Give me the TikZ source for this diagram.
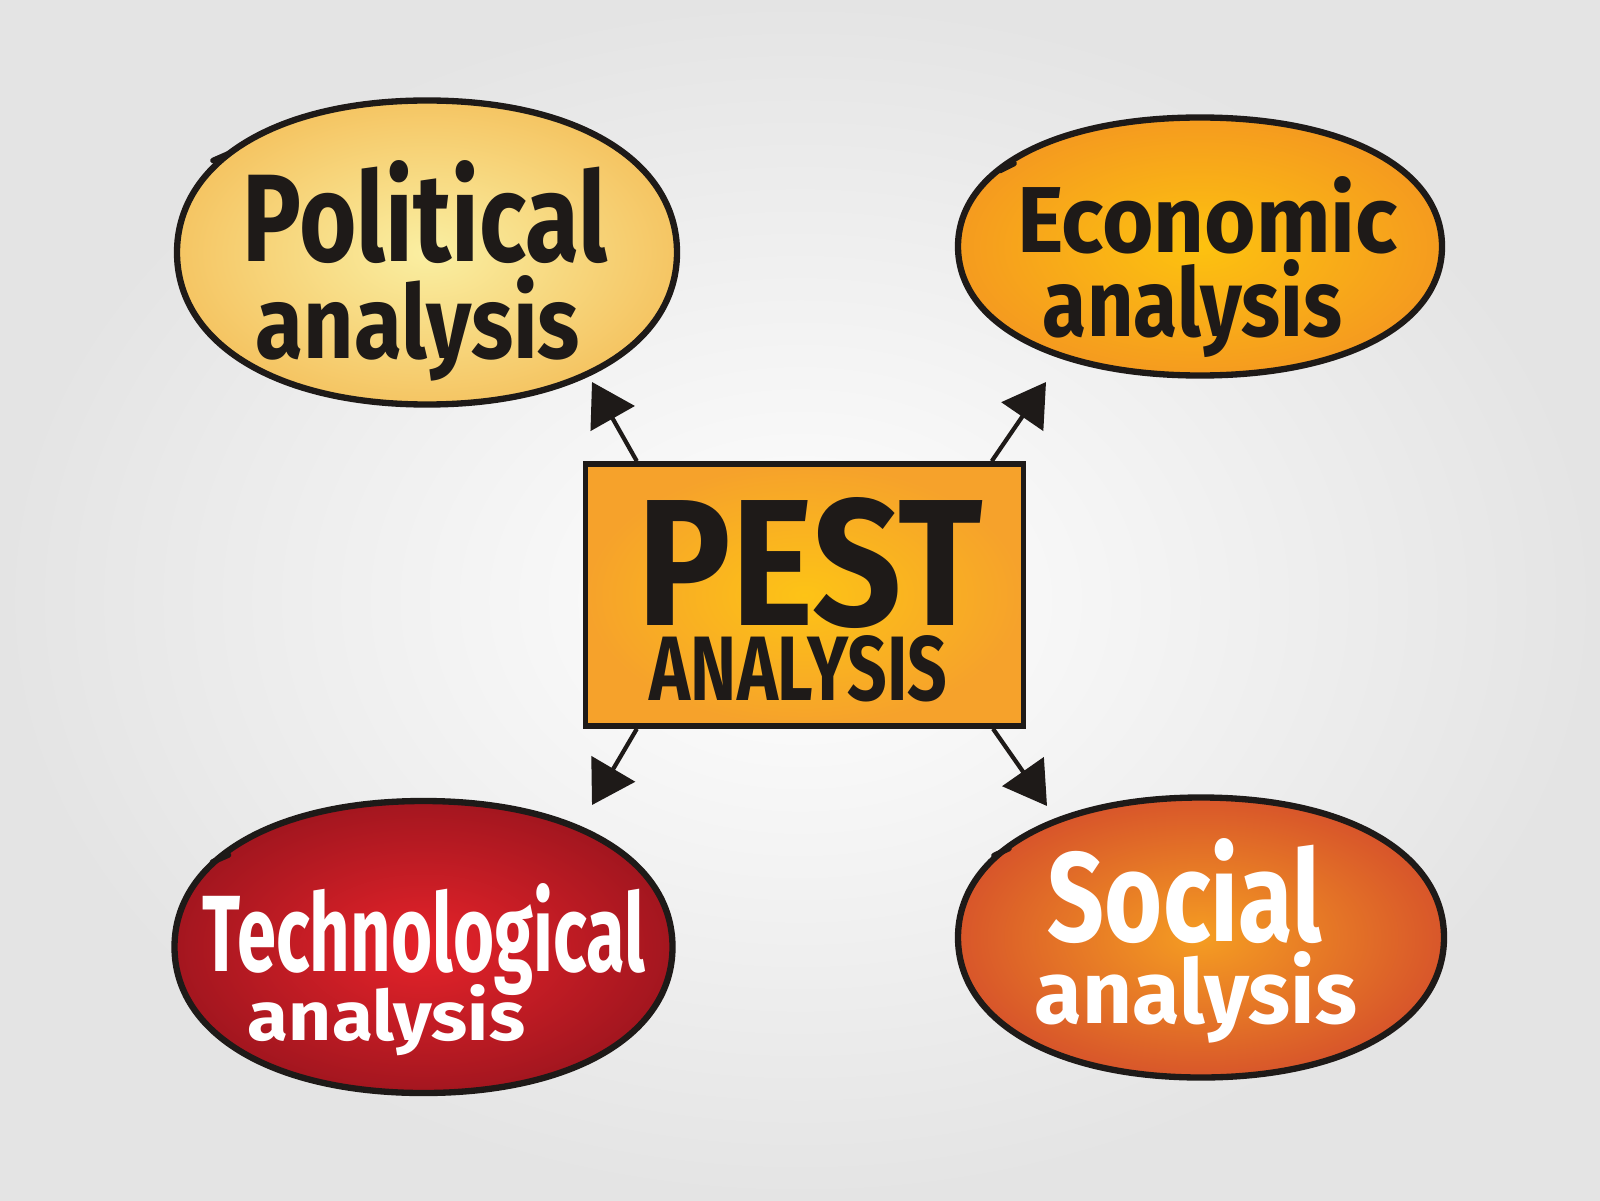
\documentclass[tikz,border=0pt]{standalone}
\usepackage{fontspec}
\setmainfont{Fira Sans}
\usetikzlibrary{arrows.meta,calc,shapes.geometric}
\definecolor{bgedge}{HTML}{E4E4E4}
\definecolor{polIn}{HTML}{FAEFA2}
\definecolor{polOut}{HTML}{F5C563}
\definecolor{ecoIn}{HTML}{FDC20F}
\definecolor{ecoOut}{HTML}{F59B1F}
\definecolor{tecIn}{HTML}{E6232A}
\definecolor{tecOut}{HTML}{A3161F}
\definecolor{socIn}{HTML}{F59D22}
\definecolor{socOut}{HTML}{D8562A}
\definecolor{pestIn}{HTML}{FDC316}
\definecolor{pestOut}{HTML}{F6A22B}
\definecolor{ink}{HTML}{1E1A18}
\newcommand{\fitword}[3]{\raisebox{0pt}[\height][0pt]{\resizebox{#1}{#2}{#3}}}
% egg-like bubble: centre name, half width, half height
\newcommand{\eggshape}[3]{%
  ($(#1)+({#2},0)$) .. controls ($(#1)+({#2},{0.6*#3})$) and ($(#1)+({0.6*#2},{#3})$) ..
  ($(#1)+(0,{#3})$) .. controls ($(#1)+({-0.6*#2},{#3})$) and ($(#1)+({-#2},{0.6*#3})$) ..
  ($(#1)+({-#2},0)$) .. controls ($(#1)+({-#2},{-0.6*#3})$) and ($(#1)+({-0.6*#2},{-#3})$) ..
  ($(#1)+(0,{-#3})$) .. controls ($(#1)+({0.6*#2},{-#3})$) and ($(#1)+({#2},{-0.6*#3})$) .. cycle}
\tikzset{
  bubble/.style={draw=ink, line width=1.8pt},
  tick/.style={draw=ink, line width=1.6pt, line cap=round},
  word/.style={anchor=base, inner sep=0pt, font=\bfseries},
  conn/.style={draw=ink, line width=1.2pt, -{Triangle[length=0.42cm,width=0.5cm]}},
}
\begin{document}
\begin{tikzpicture}
\useasboundingbox (0,0) rectangle (16,12);
\shade[inner color=white, outer color=bgedge] (0,0) rectangle (16,12);

% bubble centres
\coordinate (pol) at (4.27,9.475);
\coordinate (eco) at (12.00,9.535);
\coordinate (tec) at (4.235,2.53);
\coordinate (soc) at (12.01,2.625);

% bubbles
\shadedraw[bubble, inner color=polIn, outer color=polOut] \eggshape{pol}{2.50}{1.52};
\shadedraw[bubble, inner color=ecoIn, outer color=ecoOut] \eggshape{eco}{2.42}{1.29};
\shadedraw[bubble, inner color=tecIn, outer color=tecOut] \eggshape{tec}{2.49}{1.46};
\shadedraw[bubble, inner color=socIn, outer color=socOut] \eggshape{soc}{2.43}{1.40};

% pen ticks at the start of each outline
\draw[tick] ($(pol)+(-2.14,0.92)$) -- ($(pol)+(-1.98,0.99)$);
\draw[tick] ($(eco)+(-2.00,0.76)$) -- ($(eco)+(-1.86,0.83)$);
\draw[tick] ($(tec)+(-2.11,0.85)$) -- ($(tec)+(-1.95,0.92)$);
\draw[tick] ($(soc)+(-2.07,0.82)$) -- ($(soc)+(-1.92,0.89)$);

% central box
\node[rectangle, draw=ink, line width=1.6pt, shading=radial, inner color=pestIn, outer color=pestOut, minimum width=4.38cm, minimum height=2.62cm, inner sep=0pt] (pest) at (8.045,6.05) {};

% labels
\node[word, text=ink] (polA) at (4.255,9.38) {\fitword{3.65cm}{1.01cm}{Political}};
\node[word, text=ink] (polB) at (4.18,8.41) {\fitword{3.24cm}{0.83cm}{analysis}};
\node[word, text=ink] (ecoA) at (12.075,9.47) {\fitword{3.81cm}{0.76cm}{Economic}};
\node[word, text=ink] (ecoB) at (11.925,8.63) {\fitword{2.99cm}{0.77cm}{analysis}};
\node[word, text=white] (tecA) at (4.24,2.29) {\fitword{4.42cm}{0.88cm}{Technological}};
\node[word, text=white] (tecB) at (3.865,1.60) {\fitword{2.77cm}{0.56cm}{analysis}};
\node[word, text=white] (socA) at (11.85,2.59) {\fitword{2.74cm}{1.03cm}{Social}};
\node[word, text=white] (socB) at (11.96,1.77) {\fitword{3.22cm}{0.72cm}{analysis}};
\node[word, text=ink] (pestA) at (8.105,5.75) {\fitword{3.45cm}{1.28cm}{PEST}};
\node[word, text=ink] (pestB) at (7.985,5.00) {\fitword{2.97cm}{0.65cm}{ANALYSIS}};

% arrow tips (free ends)
\coordinate (tPol) at (5.92,8.18);
\coordinate (tEco) at (10.46,8.18);
\coordinate (tTec) at (5.92,3.95);
\coordinate (tSoc) at (10.47,3.94);

\draw[conn] ($(pest.north west)!0.122!(pest.north east)$) -- (tPol);
\draw[conn] ($(pest.north west)!0.922!(pest.north east)$) -- (tEco);
\draw[conn] ($(pest.south west)!0.122!(pest.south east)$) -- (tTec);
\draw[conn] ($(pest.south west)!0.925!(pest.south east)$) -- (tSoc);
\end{tikzpicture}
\end{document}
